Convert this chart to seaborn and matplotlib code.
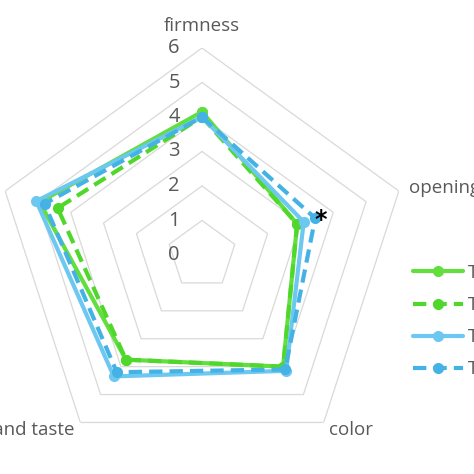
import numpy as np
import pandas as pd
import seaborn as sns
import matplotlib.pyplot as plt
from matplotlib.transforms import offset_copy

# categories clockwise from the top
categories = ["firmness", "opening", "color", "smell and taste", "appearance"]
series_names = ["T1", "T2", "T3", "T4"]
t1_values = [4.15, 2.9, 4.0, 3.75, 4.95]
t2_values = [4.0, 2.9, 4.0, 3.75, 4.4]
t3_values = [4.0, 3.1, 4.15, 4.35, 5.05]
t4_values = [4.0, 3.45, 4.1, 4.2, 4.8]
ring_levels = [0, 1, 2, 3, 4, 5, 6]

colors = {"T1": "#62DE3E", "T2": "#4FD82B", "T3": "#6CC8F0", "T4": "#45B2E6"}
dashes = {"T1": "", "T2": (3.2, 1.7), "T3": "", "T4": (3.2, 1.7)}
markers = {name: "o" for name in series_names}

sns.set_theme(style="white")
plt.rcParams["font.family"] = ["Open Sans", "DejaVu Sans"]
grey = "#595959"

n = len(categories)
angles = np.linspace(0, 2 * np.pi, n, endpoint=False)
loop_angles = np.append(angles, 2 * np.pi)

rows = []
for name, vals in zip(series_names, [t1_values, t2_values, t3_values, t4_values]):
    loop_vals = list(vals) + [vals[0]]
    for a, v in zip(loop_angles, loop_vals):
        rows.append({"angle": a, "value": v, "series": name})
df = pd.DataFrame(rows)

fig = plt.figure(figsize=(4.74, 4.74), dpi=100)
# center of chart at (202, 255) px, radius 207 px for value 6
ax = fig.add_axes([-5 / 474, 12 / 474, 414 / 474, 414 / 474], projection="polar")
ax.set_theta_offset(np.pi / 2)
ax.set_theta_direction(-1)
ax.set_ylim(0, 6)
ax.grid(False)
ax.spines["polar"].set_visible(False)
ax.set_xticks([])
ax.set_yticks([])

# pentagon grid
for lvl in ring_levels[1:]:
    ax.plot(loop_angles, [lvl] * len(loop_angles), color="#D9D9D9", lw=0.9, zorder=1)

sns.lineplot(data=df, x="angle", y="value", hue="series", style="series",
             palette=colors, dashes=dashes, markers=markers, sort=False,
             estimator=None, lw=3, markersize=8, markeredgewidth=0,
             ax=ax, zorder=3)
ax.set_xlabel("")
ax.set_ylabel("")

# value labels along the firmness axis
tick_tr = offset_copy(ax.transData, fig=fig, x=-28, y=0, units="dots")
for lvl in ring_levels:
    ax.text(0, lvl, str(lvl), transform=tick_tr, ha="center", va="center",
            fontsize=14.5, color=grey)

# category labels
label_pos = [
    (0, 6.65, "center", "center"),
    (angles[1], 6.3, "left", "center"),
    (angles[2], 6.28, "left", "center"),
    (angles[3], 6.28, "right", "center"),
    (angles[4], 6.3, "right", "center"),
]
for cat, (a, r, ha, va) in zip(categories, label_pos):
    ax.text(a, r, cat, ha=ha, va=va, fontsize=13.5, color=grey, clip_on=False)

# significance mark
ax.text(angles[1] + 0.03, 3.6, "*", ha="center", va="center", fontsize=17,
        fontweight="bold", color="black", family="DejaVu Sans")

sns.move_legend(ax, loc="upper left", bbox_to_anchor=(413 / 474, 1 - 264 / 474),
                bbox_transform=fig.transFigure, title=None, frameon=False,
                fontsize=13.5, handlelength=2.67, handletextpad=0.27,
                labelspacing=0.75, borderpad=0, borderaxespad=0)
leg = ax.get_legend()
for t in leg.get_texts():
    t.set_color(grey)

fig.savefig("out.png", dpi=100)
